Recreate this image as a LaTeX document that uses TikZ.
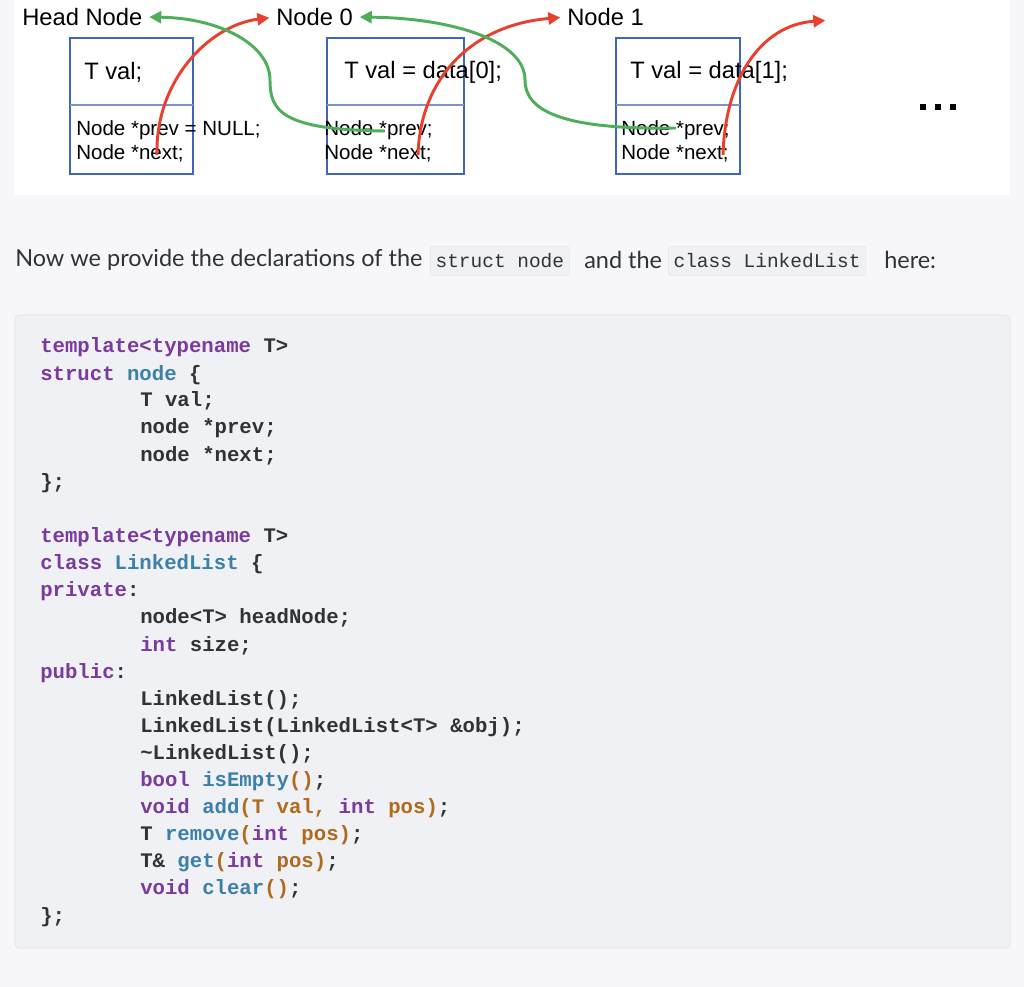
\documentclass[tikz,border=0pt]{standalone}
\usepackage{fontspec}
\setmainfont{Lato}
\setmonofont{Liberation Mono}
\newfontfamily\arial{Liberation Sans}
\usetikzlibrary{arrows.meta}
\definecolor{kwc}{HTML}{7B3A9E}
\definecolor{fnc}{HTML}{3A80AA}
\definecolor{arc}{HTML}{B06A1E}
\definecolor{txc}{HTML}{2E3436}
\definecolor{pagebg}{HTML}{F7F7F9}
\definecolor{codebg}{HTML}{F0F1F4}
\definecolor{boxc}{HTML}{3F67B5}
\definecolor{redc}{HTML}{E8402E}
\definecolor{grnc}{HTML}{4EAE5A}
\newcommand{\kw}[1]{\textcolor{kwc}{#1}}
\newcommand{\fn}[1]{\textcolor{fnc}{#1}}
\newcommand{\ar}[1]{\textcolor{arc}{#1}}
\tikzset{
  code/.style={anchor=west,inner sep=0pt,font=\ttfamily\bfseries\fontsize{15.5}{18}\selectfont,text=txc},
  lbl/.style={anchor=west,inner sep=0pt,font=\arial\fontsize{17.8}{20}\selectfont},
  intxt/.style={anchor=west,inner sep=0pt,font=\arial\fontsize{15.4}{18}\selectfont,align=left},
  valtxt/.style={anchor=west,inner sep=0pt,font=\arial\fontsize{17.8}{20}\selectfont},
  nbox/.style={draw=boxc,line width=1.6pt},
  redarr/.style={draw=redc,line width=2.2pt,-{Triangle[length=9pt,width=9pt]},shorten >=5pt},
  grnarr/.style={draw=grnc,line width=2.2pt,-{Triangle[length=9pt,width=9pt]},shorten >=5pt},
  icode/.style={fill=codebg,draw=black!10,rounded corners=2pt,inner xsep=4pt,inner ysep=3pt,font=\ttfamily\fontsize{14.6}{16}\selectfont,text=txc,minimum height=22pt},
  sent/.style={anchor=west,inner sep=0pt,font=\fontsize{17.6}{20}\selectfont,text=txc},
}
\begin{document}
\begin{tikzpicture}[x=0.75pt,y=-0.75pt]
\fill[pagebg] (0,0) rectangle (1024,987);
\useasboundingbox (0,0) rectangle (1024,987);
\fill[white] (14,0) rectangle (1010,195);
% labels
\node[lbl] (lh) at (22,17) {Head Node};
\node[lbl] (l0) at (276,17) {Node 0};
\node[lbl] (l1) at (567,17) {Node 1};
\coordinate (l2) at (832,20);
% boxes
\draw[nbox] (70,38) rectangle (193,174);
\draw[draw=boxc!70!white,line width=2pt] (70,105) -- (193,105);
\draw[nbox] (327,38) rectangle (464,174);
\draw[draw=boxc!70!white,line width=2pt] (327,105) -- (464,105);
\draw[nbox] (616,38) rectangle (740,174);
\draw[draw=boxc!70!white,line width=2pt] (616,105) -- (740,105);
\node[valtxt] (v0) at (84,72) {T val;};
\node[valtxt] (v1) at (344,72) {T val = data[0];};
\node[valtxt] (v2) at (630,72) {T val = data[1];};
\node[intxt] (p0) at (76,141) {Node *prev = NULL;\\Node *next;};
\node[intxt] (p1) at (324,141) {Node *prev;\\Node *next;};
\node[intxt] (p2) at (621,141) {Node *prev;\\Node *next;};
\coordinate (n0) at (157,155);
\coordinate (n1) at (418,155);
\coordinate (n2) at (723,155);
\coordinate (q1) at (385,131);
\coordinate (q2) at (676,128);
% arrows
\draw[redarr] (n0) .. controls (155,80) and (210,25) .. (l0.west);
\draw[redarr] (n1) .. controls (420,80) and (470,25) .. (l1.west);
\draw[redarr] (n2) .. controls (725,80) and (760,25) .. (l2);
\draw[grnarr] (q1) .. controls (280,130) and (270,110) .. (270,80) .. controls (270,45) and (220,18) .. (lh.east);
\draw[grnarr] (q2) .. controls (560,130) and (525,110) .. (525,80) .. controls (525,40) and (450,18) .. (l0.east);
\node[inner sep=0pt,minimum size=0pt] (dots) at (938,107) {};
\foreach \dx in {-15,0,15} \fill[black] ([xshift=\dx*0.75pt]dots) ++(-2.8pt*0.75/0.75*0.75,-2.2pt) rectangle ++(4.2pt,4.2pt);
% sentence
\node[sent] (s1) at (15,260) {Now we provide the declarations of the};
\node[icode,anchor=west] (c1) at (430,261) {struct node};
\node[sent] (s2) at (584,260) {and the};
\node[icode,anchor=west] (c2) at (668,261) {class LinkedList};
\node[sent] (s3) at (884,260) {here:};
% code block
\draw[fill=codebg,draw=black!12,rounded corners=3pt] (15,315) rectangle (1010,948);
\node[code] (k1) at (40,347) {\kw{template<typename} T>};
\node[code] (k2) at (40,375) {\kw{struct} \fn{node} \{};
\node[code] (k3) at (140,401) {T val;};
\node[code] (k4) at (140,428) {node *prev;};
\node[code] (k5) at (140,456) {node *next;};
\node[code] (k6) at (40,483) {\};};
\node[code] (k7) at (40,537) {\kw{template<typename} T>};
\node[code] (k8) at (40,564) {\kw{class} \fn{LinkedList} \{};
\node[code] (k9) at (40,591) {\kw{private}:};
\node[code] (k10) at (140,618) {node<T> headNode;};
\node[code] (k11) at (140,646) {\kw{int} size;};
\node[code] (k12) at (40,673) {\kw{public}:};
\node[code] (k13) at (140,700) {LinkedList();};
\node[code] (k14) at (140,727) {LinkedList(LinkedList<T> \&obj);};
\node[code] (k15) at (140,754) {\textasciitilde LinkedList();};
\node[code] (k16) at (140,781) {\kw{bool} \fn{isEmpty}\ar{()};};
\node[code] (k17) at (140,808) {\kw{void} \fn{add}\ar{(T val,} \kw{int} \ar{pos)};};
\node[code] (k18) at (140,835) {T \fn{remove}\ar{(}\kw{int} \ar{pos)};};
\node[code] (k19) at (140,862) {T\& \fn{get}\ar{(}\kw{int} \ar{pos)};};
\node[code] (k20) at (140,889) {\kw{void} \fn{clear}\ar{()};};
\node[code] (k21) at (40,917) {\};};
\end{tikzpicture}
\end{document}
